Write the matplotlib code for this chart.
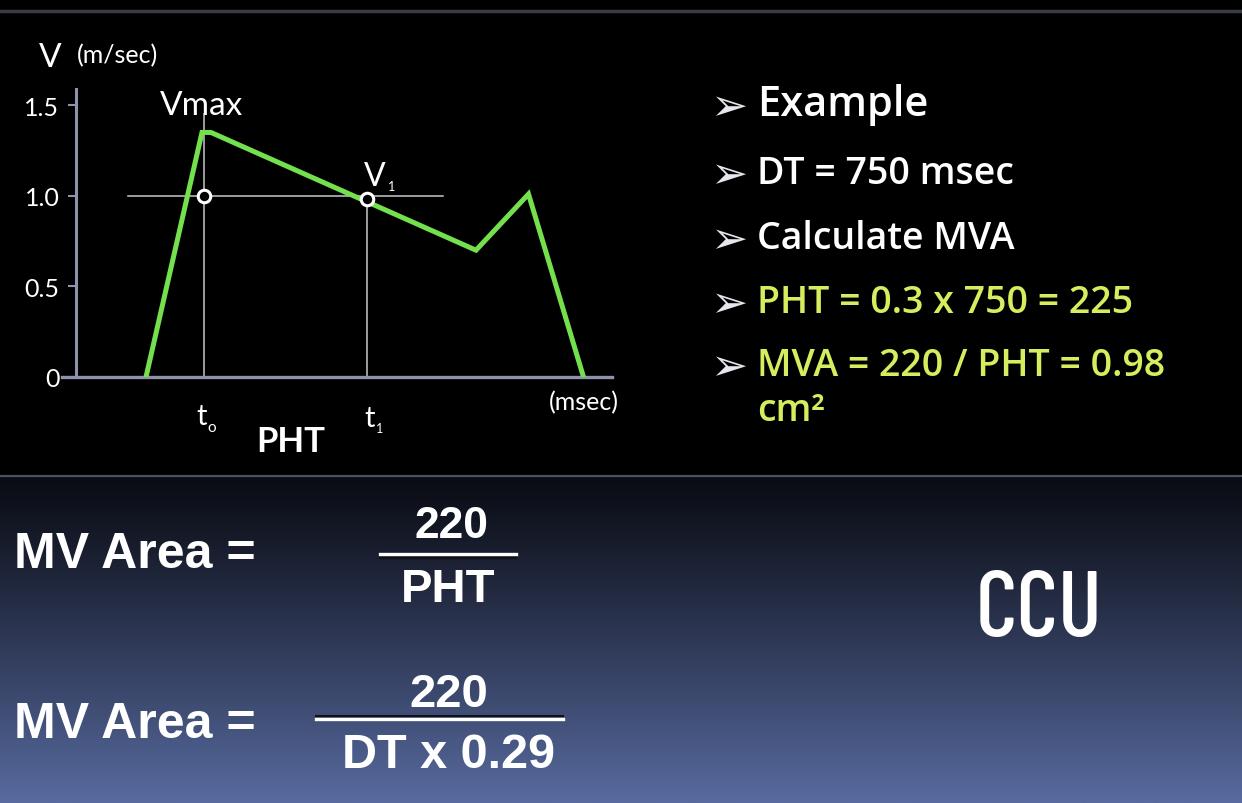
import numpy as np
import matplotlib.pyplot as plt
from matplotlib import font_manager

W, H = 1242, 804

# Doppler velocity trace (msec, m/sec)
time_ms = [140, 252, 270, 800, 905, 1015]
velocity = [0.0, 1.35, 1.35, 0.70, 1.01, 0.0]

# PHT construction
h_line_t = [104, 734]
h_line_v = [1.0, 1.0]
t_points = [256, 582]
v_points = [1.0, 0.985]
v_top = [1.45, 0.985]

y_ticks = [0, 0.5, 1.0, 1.5]
y_tick_labels = ['0', '0.5', '1.0', '1.5']

bullets = ['Example', 'DT = 750 msec', 'Calculate MVA',
           'PHT = 0.3 x 750 = 225', 'MVA = 220 / PHT = 0.98']
bullet_colors = ['white', 'white', 'white', '#d4ee5e', '#d4ee5e']
bullet_baselines = [116, 184, 249, 313, 376]

GREEN = '#74e04e'
AXIS = '#8e92ab'
YEL = '#d4ee5e'


def fx(x):
    return x / W


def fy(y):
    return 1 - y / H


def has_font(name):
    return any(f.name == name for f in font_manager.fontManager.ttflist)


condensed = 'Barlow Condensed' if has_font('Barlow Condensed') else 'DejaVu Sans'
chart_font = ['Lato', 'DejaVu Sans']
list_font = ['Open Sans', 'DejaVu Sans']

fig = plt.figure(figsize=(W / 100, H / 100), dpi=100)
fig.patch.set_facecolor('black')

# background: black top, navy gradient bottom
bg = fig.add_axes([0, 0, 1, 1])
bg.axis('off')
grad = np.linspace(0, 1, 200)[:, None]
c0 = np.array([10, 12, 20]) / 255
c1 = np.array([88, 107, 160]) / 255
img = c0 + (c1 - c0) * grad[..., None] ** 1.1
bg.imshow(img, extent=[0, W, H, 478], aspect='auto', zorder=0)
bg.imshow(np.zeros((2, 2, 3)), extent=[0, W, 478, 0], aspect='auto', zorder=0)
bg.plot([0, W], [12, 12], color='#3a3c4a', lw=2.5, zorder=1)
bg.plot([0, W], [477, 477], color='#4c5064', lw=1.6, zorder=1)

# chart
ax = fig.add_axes([fx(62), fy(378), fx(612) - fx(62), fy(90) - fy(378)])
ax.set_facecolor('none')
ax.set_xlim(-28, 1072)
ax.set_ylim(0, 1.59)
for s in ['top', 'right']:
    ax.spines[s].set_visible(False)
ax.spines['left'].set_position(('data', 0))
ax.spines['left'].set_color(AXIS)
ax.spines['bottom'].set_color(AXIS)
ax.spines['left'].set_linewidth(2.2)
ax.spines['bottom'].set_linewidth(2.4)
ax.set_xticks([])
ax.set_yticks(y_ticks)
ax.set_yticklabels(y_tick_labels, family=chart_font, fontsize=18, color='white')
ax.tick_params(axis='y', colors=AXIS, length=6, width=1.5, pad=6, labelcolor='white')

ax.plot(h_line_t, h_line_v, color='#c8c8c8', lw=1.1, zorder=2)
for t, top in zip(t_points, v_top):
    ax.plot([t, t], [0, top], color='#c8c8c8', lw=1.1, zorder=2)
ax.plot(time_ms, velocity, color=GREEN, lw=3.6, solid_joinstyle='miter', zorder=3)
ax.plot(t_points, v_points, 'o', ms=9, mfc='black', mec='white', mew=2.2, zorder=4)

# chart labels
fig.text(fx(39), fy(67), 'V', family=chart_font, fontsize=24, color='white', va='baseline')
fig.text(fx(77), fy(63), '(m/sec)', family=chart_font, fontsize=18, color='white', va='baseline')
fig.text(fx(202), fy(115), 'Vmax', family=chart_font, fontsize=24, color='white',
         ha='center', va='baseline')
fig.text(fx(364), fy(186), 'V', family=chart_font, fontsize=23, color='white', va='baseline')
fig.text(fx(388), fy(191), '1', family=chart_font, fontsize=9, color='white', va='baseline')
fig.text(fx(196), fy(425), 't', family=chart_font, fontsize=21, color='white', va='baseline')
fig.text(fx(207), fy(432), 'o', family=chart_font, fontsize=11, color='white', va='baseline')
fig.text(fx(364), fy(427), 't', family=chart_font, fontsize=21, color='white', va='baseline')
fig.text(fx(376), fy(433), '1', family=chart_font, fontsize=9, color='white', va='baseline')
fig.text(fx(291), fy(452), 'PHT', family=chart_font, fontsize=25, color='white',
         ha='center', va='baseline', weight='bold')
fig.text(fx(584), fy(410), '(msec)', family=chart_font, fontsize=18, color='white',
         ha='center', va='baseline')

# bullet list
for txt, col, base in zip(bullets, bullet_colors, bullet_baselines):
    size = 30 if txt == 'Example' else 27
    fig.text(fx(710), fy(base + 4), '\u27a2', family=['DejaVu Sans'], fontsize=32,
             color='#e6e6ee', va='baseline')
    fig.text(fx(757), fy(base), txt, family=list_font, fontsize=size, color=col,
             va='baseline', weight='semibold')
fig.text(fx(757), fy(421), 'cm\u00b2', family=list_font, fontsize=27, color=YEL,
         va='baseline', weight='semibold')

# formulas
formula_font = ['Liberation Sans', 'DejaVu Sans']
fig.text(fx(14), fy(568), 'MV Area =', family=formula_font, fontsize=36, weight='bold',
         color='white', va='baseline')
fig.text(fx(452), fy(538), '220', family=formula_font, fontsize=32, weight='bold',
         color='white', ha='center', va='baseline')
bg.plot([380, 516], [555, 555], color='white', lw=2.4, zorder=3)
bg.plot([380, 516], [558.5, 558.5], color='#101218', lw=1.5, zorder=2)
fig.text(fx(448), fy(602), 'PHT', family=formula_font, fontsize=34, weight='bold',
         color='white', ha='center', va='baseline')

fig.text(fx(14), fy(738), 'MV Area =', family=formula_font, fontsize=36, weight='bold',
         color='white', va='baseline')
fig.text(fx(449), fy(707), '220', family=formula_font, fontsize=34, weight='bold',
         color='white', ha='center', va='baseline')
bg.plot([316, 563], [720, 720], color='white', lw=2.4, zorder=3)
bg.plot([316, 563], [716.5, 716.5], color='#101218', lw=1.5, zorder=2)
fig.text(fx(448), fy(768), 'DT x 0.29', family=formula_font, fontsize=35, weight='bold',
         color='white', ha='center', va='baseline')

fig.text(fx(1039), fy(636), 'CCU', family=[condensed, 'DejaVu Sans'], fontsize=66,
         weight='medium', color='white', ha='center', va='baseline')

bg.set_xlim(0, W)
bg.set_ylim(H, 0)
fig.savefig('out.png', dpi=100, facecolor=fig.get_facecolor())
